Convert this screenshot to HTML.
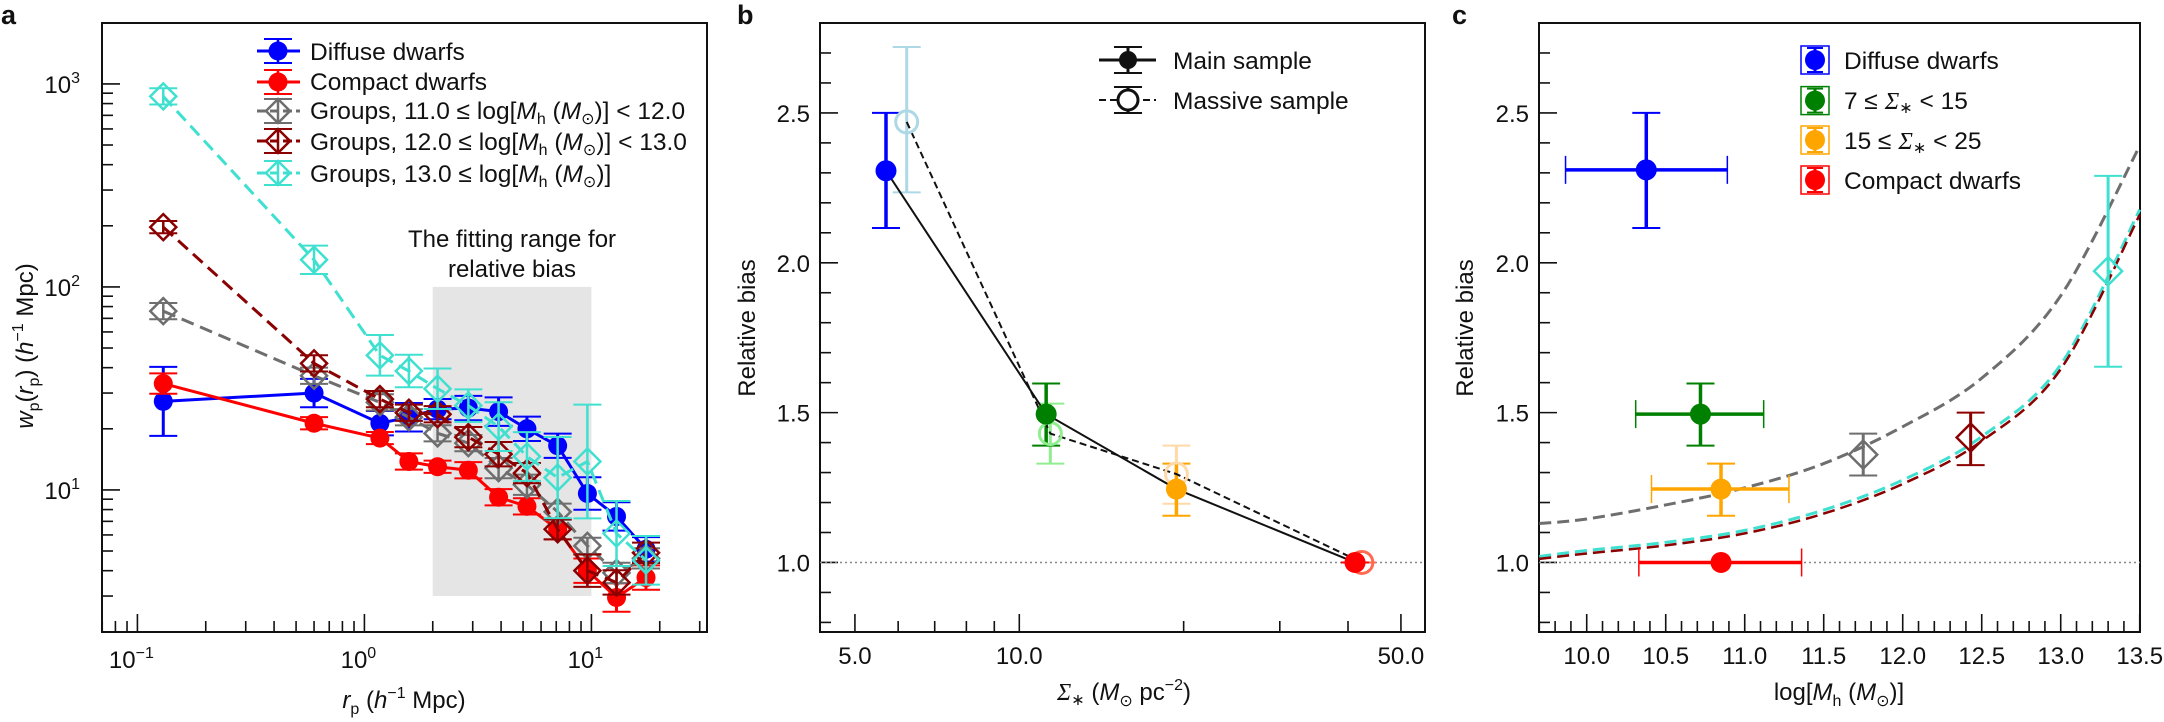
<!DOCTYPE html>
<html><head><meta charset="utf-8">
<style>
html,body{margin:0;padding:0;background:#fff;}
svg{display:block;font-family:"Liberation Sans",Arial,sans-serif;}
text{fill:#111;}
</style></head>
<body>
<svg id="fig" width="2164" height="722" viewBox="0 0 2164 722" xmlns="http://www.w3.org/2000/svg">
  <g id="pa"></g>
  <g id="pb"></g>
  <g id="pc"></g>
  <text x="1" y="24" font-size="27" font-weight="bold">a</text>
  <text x="737" y="24" font-size="27" font-weight="bold">b</text>
  <text x="1452" y="24" font-size="27" font-weight="bold">c</text>
  <text x="404" y="708" font-size="24" text-anchor="middle"><tspan font-style="italic">r</tspan><tspan font-size="16" dy="6">p</tspan><tspan dy="-6"> (</tspan><tspan font-style="italic">h</tspan><tspan font-size="16" dy="-10">−1</tspan><tspan dy="10"> Mpc)</tspan></text>
  <text transform="translate(33,346) rotate(-90)" font-size="24" text-anchor="middle"><tspan font-style="italic">w</tspan><tspan font-size="16" dy="6">p</tspan><tspan dy="-6">(</tspan><tspan font-style="italic">r</tspan><tspan font-size="16" dy="6">p</tspan><tspan dy="-6">) (</tspan><tspan font-style="italic">h</tspan><tspan font-size="16" dy="-10">−1</tspan><tspan dy="10"> Mpc)</tspan></text>
  <text x="1124" y="700" font-size="24" text-anchor="middle"><tspan font-style="italic" font-family="Liberation Serif">Σ</tspan><tspan font-size="16" dy="5">∗</tspan><tspan dy="-5"> (</tspan><tspan font-style="italic">M</tspan><tspan font-size="16" dy="6">⊙</tspan><tspan dy="-6"> pc</tspan><tspan font-size="16" dy="-10">−2</tspan><tspan dy="10">)</tspan></text>
  <text transform="translate(755,328) rotate(-90)" font-size="24" text-anchor="middle">Relative bias</text>
  <text x="1839" y="700" font-size="24" text-anchor="middle">log[<tspan font-style="italic">M</tspan><tspan font-size="16" dy="6">h</tspan><tspan dy="-6"> (</tspan><tspan font-style="italic">M</tspan><tspan font-size="16" dy="6">⊙</tspan><tspan dy="-6">)]</tspan></text>
  <text transform="translate(1473,328) rotate(-90)" font-size="24" text-anchor="middle">Relative bias</text>
  <text x="512" y="247" font-size="24" text-anchor="middle">The fitting range for</text>
  <text x="512" y="277" font-size="24" text-anchor="middle">relative bias</text>
  <g font-size="24.5">
    <text x="310" y="60">Diffuse dwarfs</text>
    <text x="310" y="90">Compact dwarfs</text>
    <text x="310" y="119">Groups, 11.0 ≤ log[<tspan font-style="italic">M</tspan><tspan font-size="16" dy="5">h</tspan><tspan dy="-5"> (</tspan><tspan font-style="italic">M</tspan><tspan font-size="16" dy="5">⊙</tspan><tspan dy="-5">)] &lt; 12.0</tspan></text>
    <text x="310" y="150">Groups, 12.0 ≤ log[<tspan font-style="italic">M</tspan><tspan font-size="16" dy="5">h</tspan><tspan dy="-5"> (</tspan><tspan font-style="italic">M</tspan><tspan font-size="16" dy="5">⊙</tspan><tspan dy="-5">)] &lt; 13.0</tspan></text>
    <text x="310" y="182">Groups, 13.0 ≤ log[<tspan font-style="italic">M</tspan><tspan font-size="16" dy="5">h</tspan><tspan dy="-5"> (</tspan><tspan font-style="italic">M</tspan><tspan font-size="16" dy="5">⊙</tspan><tspan dy="-5">)]</tspan></text>
  </g>
  <g font-size="24.5">
    <text x="1173" y="69">Main sample</text>
    <text x="1173" y="109">Massive sample</text>
  </g>
  <g font-size="24.5">
    <text x="1844" y="69">Diffuse dwarfs</text>
    <text x="1844" y="109">7 ≤ <tspan font-style="italic" font-family="Liberation Serif">Σ</tspan><tspan font-size="16" dy="4">∗</tspan><tspan dy="-4"> &lt; 15</tspan></text>
    <text x="1844" y="149">15 ≤ <tspan font-style="italic" font-family="Liberation Serif">Σ</tspan><tspan font-size="16" dy="4">∗</tspan><tspan dy="-4"> &lt; 25</tspan></text>
    <text x="1844" y="189">Compact dwarfs</text>
  </g>
</svg>
<script>
// ---------- Panel a data ----------
const rpA = [0.13,0.6,1.17,1.57,2.1,2.87,3.9,5.2,7.1,9.6,12.9,17.4];
const wpDiffuse = [27.3,30,21.3,22.8,25,25.3,24.3,20,16.5,9.6,7.4,5.1];
const errDiffuse = [0.17,0.07,0.06,0.07,0.05,0.06,0.07,0.06,0.06,0.08,0.07,0.06];
const wpCompact = [33.4,21.3,18,13.8,13,12.5,9.2,8.3,6.4,4.0,2.95,3.7];
const errCompact = [0.05,0.03,0.03,0.04,0.03,0.04,0.04,0.04,0.05,0.06,0.07,0.06];
const wpG1 = [76,36.5,27,22.8,19,17,12.8,10.6,7.8,5.3,3.9,4.6];
const errG1 = [0.04,0.04,0.04,0.04,0.04,0.04,0.05,0.05,0.04,0.04,0.05,0.05];
const wpG2 = [197,42,28,24,23.6,18.2,15,12.1,6.4,4.0,3.5,4.9];
const errG2 = [0.03,0.04,0.04,0.04,0.04,0.05,0.06,0.05,0.05,0.08,0.06,0.05];
const wpG3 = [868,136,46,38.5,31.5,26,20.5,14.6,11.5,13.8,6.1,4.5];
const errG3 = [0.04,0.07,0.1,0.08,0.1,0.08,0.12,0.12,0.2,0.28,0.16,0.12];
const fitRange = [2,10];
const fitRangeY = [3,100];
const xTickDecA = [-1,0,1];
const yTickDecA = [1,2,3];
// ---------- Panel b data ----------
const sigmaMain = [5.7,11.2,19.4,41.2];
const biasMain = [2.307,1.495,1.245,1.0];
const biasMainLo = [2.116,1.39,1.156,1.0];
const biasMainHi = [2.5,1.597,1.33,1.0];
const sigmaMassive = [6.22,11.4,19.4,42.4];
const biasMassive = [2.47,1.43,1.295,1.0];
const biasMassiveLo = [2.235,1.33,1.196,1.0];
const biasMassiveHi = [2.72,1.53,1.39,1.0];
const colorsMain = ['#0000ff','#008000','#ffa500','#ff0000'];
const colorsMassive = ['#add8e6','#90ee90','#ffd9a8','#ff6a50'];
const xTickMajorB = [5,10,50];
const xTickLabelsB = ['5.0','10.0','50.0'];
const xTickMinorB = [6,7,8,9,20,30,40];
const yTickLabelsBC = [1.0,1.5,2.0,2.5];
// ---------- Panel c data ----------
const mhDwarf = [10.377,10.72,10.85,10.85];
const mhDwarfLo = [9.866,10.31,10.41,10.33];
const mhDwarfHi = [10.89,11.12,11.28,11.36];
const biasDwarf = [2.31,1.495,1.245,1.0];
const biasDwarfLo = [2.116,1.39,1.156,1.0];
const biasDwarfHi = [2.5,1.597,1.33,1.0];
const colorsDwarf = ['#0000ff','#008000','#ffa500','#ff0000'];
const mhGroup = [11.75,12.43,13.30];
const biasGroup = [1.36,1.417,1.972];
const biasGroupLo = [1.29,1.325,1.653];
const biasGroupHi = [1.43,1.50,2.29];
const colorsGroup = ['#6e6e6e','#8b0000','#40e0d0'];
const curveMh = [9.7,10,10.5,11,11.5,12,12.5,13,13.5];
const curveGray = [1.13,1.145,1.192,1.249,1.33,1.453,1.615,1.89,2.39];
const curveCyan = [1.02,1.04,1.067,1.107,1.175,1.275,1.42,1.66,2.177];
const curveDark = [1.012,1.03,1.057,1.097,1.163,1.262,1.405,1.645,2.16];
const xTickLabelsC = [10.0,10.5,11.0,11.5,12.0,12.5,13.0,13.5];

// ---------- scales ----------
const L = Math.log10;
const A = {x0:102,x1:707,y0:23,y1:632};
const xA = v => 102 + (L(v)+1.156)*227;
const yA = v => 632 - (L(v)-0.30)*203;
const B = {x0:820,x1:1425,y0:23,y1:632};
const xB = v => 820 + (L(v)-0.635)*546;
const yB = v => 632 - (v-0.768)*299.7;
const C = {x0:1539,x1:2140,y0:23,y1:632};
const xC = v => 1539 + (v-9.698)*158;
const yC = yB;

const NS = 'http://www.w3.org/2000/svg';
function mk(parent, tag, attrs){
  const el = document.createElementNS(NS, tag);
  for (const k in attrs) el.setAttribute(k, attrs[k]);
  parent.appendChild(el);
  return el;
}
const pa = document.getElementById('pa'), pb = document.getElementById('pb'), pc = document.getElementById('pc');

function frame(g, F, name){
  const r = mk(g,'rect',{x:F.x0,y:F.y0,width:F.x1-F.x0,height:F.y1-F.y0,fill:'none',stroke:'#111','stroke-width':2});
  
  
}
function xtick(g, x, F, len, name){
  const t = mk(g,'line',{x1:x,x2:x,y1:F.y1,y2:F.y1-len,stroke:'#111','stroke-width':1.6});
  
  
}
function ytick(g, y, F, len, name){
  const t = mk(g,'line',{x1:F.x0,x2:F.x0+len,y1:y,y2:y,stroke:'#111','stroke-width':1.6});
  
  
}
function label(g, x, y, txt, anchor, name){
  const t = mk(g,'text',{x:x,y:y,'font-size':24,'text-anchor':anchor});
  t.textContent = txt;
  
  
  return t;
}
function powLabel(g, x, y, e, anchor, name){
  const t = mk(g,'text',{x:x,y:y,'font-size':24,'text-anchor':anchor});
  const a = mk(t,'tspan',{}); a.textContent='10';
  const b = mk(t,'tspan',{'font-size':16,dy:-10}); b.textContent = e<0 ? '−'+(-e) : String(e);
  
  
}
function errV(g, x, ylo, yhi, color, w, cap, name){
  const e = mk(g,'g',{stroke:color,'stroke-width':w,fill:'none'});
  
  
  mk(e,'line',{x1:x,x2:x,y1:ylo,y2:yhi});
  mk(e,'line',{x1:x-cap,x2:x+cap,y1:ylo,y2:ylo,'stroke-width':2});
  mk(e,'line',{x1:x-cap,x2:x+cap,y1:yhi,y2:yhi,'stroke-width':2});
}
function errH(g, y, xlo, xhi, color, w, cap, name){
  const e = mk(g,'g',{stroke:color,'stroke-width':w,fill:'none'});
  
  
  mk(e,'line',{x1:xlo,x2:xhi,y1:y,y2:y});
  mk(e,'line',{x1:xlo,x2:xlo,y1:y-cap,y2:y+cap,'stroke-width':1.5});
  mk(e,'line',{x1:xhi,x2:xhi,y1:y-cap,y2:y+cap,'stroke-width':1.5});
}
function circ(g, x, y, r, fill, stroke, name){
  const c = mk(g,'circle',{cx:x,cy:y,r:r,fill:fill,stroke:stroke,'stroke-width':3});
  
  
}
function diamond(g, x, y, s, color, name){
  const d = mk(g,'polygon',{points:`${x},${y-s} ${x+s},${y} ${x},${y+s} ${x-s},${y}`,fill:'none',stroke:color,'stroke-width':2.5});
  
  
}
function poly(g, xs, ys, color, w, dash, name){
  const p = mk(g,'polyline',{points:xs.map((x,i)=>x+','+ys[i]).join(' '),fill:'none',stroke:color,'stroke-width':w});
  if (dash) p.setAttribute('stroke-dasharray', dash);
  
  
}
function smooth(g, xs, ys, color, w, dash, name){
  let d = `M${xs[0]},${ys[0]}`;
  for (let i=0;i<xs.length-1;i++){
    const x0=xs[Math.max(i-1,0)], y0=ys[Math.max(i-1,0)];
    const x3=xs[Math.min(i+2,xs.length-1)], y3=ys[Math.min(i+2,xs.length-1)];
    const c1x=xs[i]+(xs[i+1]-x0)/6, c1y=ys[i]+(ys[i+1]-y0)/6;
    const c2x=xs[i+1]-(x3-xs[i])/6, c2y=ys[i+1]-(y3-ys[i])/6;
    d += ` C${c1x},${c1y} ${c2x},${c2y} ${xs[i+1]},${ys[i+1]}`;
  }
  const p = mk(g,'path',{d:d,fill:'none',stroke:color,'stroke-width':w});
  if (dash) p.setAttribute('stroke-dasharray', dash);
  
  
}

// ---------- Panel a ----------
const band = mk(pa,'rect',{x:xA(fitRange[0]),y:yA(fitRangeY[1]),width:xA(fitRange[1])-xA(fitRange[0]),height:yA(fitRangeY[0])-yA(fitRangeY[1]),fill:'#e5e5e5'});


frame(pa, A, 'panel-a');
for (const d of xTickDecA){
  for (let m=1;m<10;m++){
    const v = m*Math.pow(10,d);
    const x = xA(v);
    if (x<A.x0||x>A.x1) continue;
    xtick(pa, x, A, m===1?18:11, 'x-tick-a');
  }
  powLabel(pa, xA(Math.pow(10,d))-6, 668, d, 'middle', 'x-tick-label-a');
}
for (const m of [2,3,4,5,6,7,8,9]){ const x=xA(m*0.01); if(x>=A.x0) xtick(pa,x,A,11,'x-tick-a'); }
for (const m of [2,3]){ const x=xA(m*100); if(x<=A.x1) xtick(pa,x,A,11,'x-tick-a'); }
for (const d of [0,1,2,3]){
  for (let m=1;m<10;m++){
    const v=m*Math.pow(10,d); const y=yA(v);
    if (y<A.y0||y>A.y1) continue;
    ytick(pa, y, A, m===1?18:11, 'y-tick-a');
  }
}
for (const d of yTickDecA) powLabel(pa, 80, yA(Math.pow(10,d))+9, d, 'end', 'y-tick-label-a');

const seriesA = [
  {n:'diffuse-dwarfs',v:wpDiffuse,e:errDiffuse,c:'#0000ff',t:'c',dash:null},
  {n:'compact-dwarfs',v:wpCompact,e:errCompact,c:'#ff0000',t:'c',dash:null},
  {n:'groups-11-12',v:wpG1,e:errG1,c:'#6e6e6e',t:'d',dash:'13,7'},
  {n:'groups-12-13',v:wpG2,e:errG2,c:'#8b0000',t:'d',dash:'13,7'},
  {n:'groups-13-plus',v:wpG3,e:errG3,c:'#40e0d0',t:'d',dash:'13,7'}
];
for (const s of seriesA){
  const g = mk(pa,'g',{});
  
  
  poly(g, rpA.map(xA), s.v.map(yA), s.c, 3, s.dash, 'line-'+s.n);
  rpA.forEach((r,i)=>{
    const lv=L(s.v[i]);
    errV(g, xA(r), yA(Math.pow(10,lv-s.e[i])), yA(Math.pow(10,lv+s.e[i])), s.c, s.t==='c'?3:2.5, 14, 'errorbar-'+s.n);
  });
  rpA.forEach((r,i)=>{
    if (s.t==='c') circ(g, xA(r), yA(s.v[i]), 9.5, s.c, 'none', 'point-'+s.n);
    else diamond(g, xA(r), yA(s.v[i]), 13, s.c, 'point-'+s.n);
  });
}
const legA = [[51,'#0000ff','c',null],[82,'#ff0000','c',null],[111,'#6e6e6e','d','13,7'],[141,'#8b0000','d','13,7'],[173,'#40e0d0','d','13,7']];
for (const [y,c,t,dash] of legA){
  const g = mk(pa,'g',{});
  
  
  poly(g,[257,300],[y,y],c,3,dash?'9,4':null,'legend-line');
  errV(g,278,y+12,y-12,c,2.5,14,'legend-errorbar');
  if (t==='c') circ(g,278,y,9.5,c,'none','legend-point'); else diamond(g,278,y,12,c,'legend-point');
}

// ---------- Panel b ----------
frame(pb, B, 'panel-b');
xTickMajorB.forEach((v,i)=>{ xtick(pb,xB(v),B,18,'x-tick-b'); label(pb,xB(v),664,xTickLabelsB[i],'middle','x-tick-label-b'); });
xTickMinorB.forEach(v=>xtick(pb,xB(v),B,11,'x-tick-b'));
for (let k=8;k<=28;k++){ const v=k/10; const y=yB(v); if(y<B.y0||y>B.y1) continue; ytick(pb,y,B,k%5===0?18:11,'y-tick-b'); }
yTickLabelsBC.forEach(v=>label(pb,B.x0-10,yB(v)+9,v.toFixed(1),'end','y-tick-label-b'));
const refB = mk(pb,'line',{x1:B.x0,x2:B.x1,y1:yB(1),y2:yB(1),stroke:'#888','stroke-width':1.5,'stroke-dasharray':'2,3'});


sigmaMassive.forEach((s,i)=>errV(pb,xB(s),yB(biasMassiveLo[i]),yB(biasMassiveHi[i]),colorsMassive[i],3,14,'errorbar-massive'));
sigmaMain.forEach((s,i)=>errV(pb,xB(s),yB(biasMainLo[i]),yB(biasMainHi[i]),colorsMain[i],3.5,14,'errorbar-main'));
poly(pb, sigmaMassive.map(xB), biasMassive.map(yB), '#111', 2, '7,4', 'line-massive-sample');
poly(pb, sigmaMain.map(xB), biasMain.map(yB), '#111', 2, null, 'line-main-sample');
sigmaMassive.forEach((s,i)=>circ(pb,xB(s),yB(biasMassive[i]),11,'none',colorsMassive[i],'point-massive-sample'));
sigmaMain.forEach((s,i)=>circ(pb,xB(s),yB(biasMain[i]),10.5,colorsMain[i],'none','point-main-sample'));
poly(pb,[1099,1156],[60,60],'#111',3,null,'legend-line-main');
errV(pb,1128,73,47,'#111',3,14,'legend-errorbar-main');
circ(pb,1128,60,9,'#111','none','legend-point-main');
poly(pb,[1099,1156],[100,100],'#111',2,'7,4','legend-line-massive');
errV(pb,1128,113,87,'#111',3,14,'legend-errorbar-massive');
circ(pb,1128,100,10,'#fff','#111','legend-point-massive');

// ---------- Panel c ----------
frame(pc, C, 'panel-c');
for (let k=97;k<=135;k++){ const v=k/10; const x=xC(v); if(x<C.x0||x>C.x1+1) continue; xtick(pc,x,C,k%5===0?18:11,'x-tick-c'); }
xTickLabelsC.forEach(v=>label(pc,xC(v),664,v.toFixed(1),'middle','x-tick-label-c'));
for (let k=8;k<=28;k++){ const v=k/10; const y=yC(v); if(y<C.y0||y>C.y1) continue; ytick(pc,y,C,k%5===0?18:11,'y-tick-c'); }
yTickLabelsBC.forEach(v=>label(pc,C.x0-10,yC(v)+9,v.toFixed(1),'end','y-tick-label-c'));
const refC = mk(pc,'line',{x1:C.x0,x2:C.x1,y1:yC(1),y2:yC(1),stroke:'#888','stroke-width':1.5,'stroke-dasharray':'2,3'});


smooth(pc, curveMh.map(xC), curveGray.map(yC), '#6e6e6e', 3, '12,6', 'model-curve-groups-11-12');
smooth(pc, curveMh.map(xC), curveCyan.map(yC), '#40e0d0', 3, '12,6', 'model-curve-groups-13-plus');
smooth(pc, curveMh.map(xC), curveDark.map(yC), '#8b0000', 2.5, '12,6', 'model-curve-groups-12-13');
mhGroup.forEach((m,i)=>{
  errV(pc,xC(m),yC(biasGroupLo[i]),yC(biasGroupHi[i]),colorsGroup[i],3,14,'errorbar-group');
  diamond(pc,xC(m),yC(biasGroup[i]),14,colorsGroup[i],'point-group');
});
mhDwarf.forEach((m,i)=>{
  errH(pc,yC(biasDwarf[i]),xC(mhDwarfLo[i]),xC(mhDwarfHi[i]),colorsDwarf[i],3.5,14,'errorbar-h-dwarf');
  if (biasDwarfHi[i]>biasDwarfLo[i]) errV(pc,xC(m),yC(biasDwarfLo[i]),yC(biasDwarfHi[i]),colorsDwarf[i],3.5,14,'errorbar-v-dwarf');
  circ(pc,xC(m),yC(biasDwarf[i]),10.5,colorsDwarf[i],'none','point-dwarf');
});
[60,100.6,140,180].forEach((y,i)=>{
  const r = mk(pc,'rect',{x:1801,y:y-14,width:28,height:28,fill:'none',stroke:colorsDwarf[i],'stroke-width':1.5});
  
  
  errV(pc,1815,y+12,y-12,colorsDwarf[i],3,8,'legend-errorbar-c');
  circ(pc,1815,y,10,colorsDwarf[i],'none','legend-point-c');
});
</script>
</body></html>
